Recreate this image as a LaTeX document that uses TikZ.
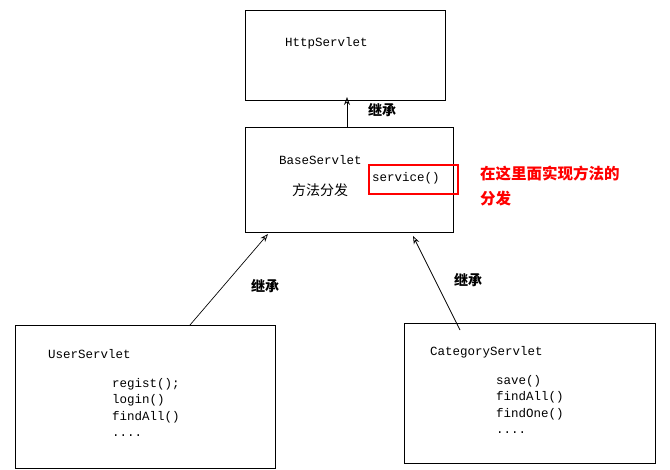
\documentclass[tikz,border=0pt]{standalone}
\usepackage{fontspec}
\usetikzlibrary{arrows.meta}
\setmainfont{Liberation Mono}
\newfontfamily\cjk{Noto Sans CJK SC}
\begin{document}
\begin{tikzpicture}[x=1pt,y=-1pt,
  box/.style={draw=black,line width=0.8pt},
  lbl/.style={font=\fontsize{12.5}{14}\selectfont,inner sep=0pt,anchor=west},
  jc/.style={font=\cjk\bfseries\fontsize{14}{15}\selectfont,inner sep=0pt},
  arr/.style={-{Stealth[open,length=8pt,width=6pt]},line width=0.7pt}]
\useasboundingbox[fill=white] (0,0) rectangle (670,470);
\draw[box] (245,10) rectangle (445,100);
\node[lbl] (http) at (285,43) {HttpServlet};
\coordinate (httpb) at (347,97);
\draw[box] (245,127) rectangle (453,232);
\coordinate (baset) at (347,127);
\node[lbl] (base) at (279,160) {BaseServlet};
\node[lbl,font=\cjk\fontsize{14}{15}\selectfont] (ff) at (292,190) {方法分发};
\draw[draw=red,line width=2pt] (369,165) rectangle (458,194);
\node[lbl] (svc) at (372,178) {service()};
\node[anchor=north west,inner sep=0pt,text=red,font=\cjk\bfseries\fontsize{15.5}{25}\selectfont,align=left] (note) at (480,166) {在这里面实现方法的\\分发};
\draw[arr] (baset) -- (httpb);
\node[jc] (j1) at (382,110) {继承};
\draw[box] (15,325) rectangle (275,468);
\node[lbl] (us) at (48,354) {UserServlet};
\node[lbl,align=left,anchor=north west,font=\fontsize{12.5}{16.5}\selectfont] (um) at (112,378) {regist();\\login()\\findAll()\\....};
\draw[box] (404,323) rectangle (655,463);
\node[lbl] (cs) at (430,352) {CategoryServlet};
\node[lbl,align=left,anchor=north west,font=\fontsize{12.5}{16.5}\selectfont] (cm) at (496,375) {save()\\findAll()\\findOne()\\....};
\coordinate (u1) at (190,325);
\coordinate (b1) at (268,234);
\coordinate (c1) at (460,330);
\coordinate (b2) at (413,236);
\draw[arr] (u1) -- (b1);
\draw[arr] (c1) -- (b2);
\node[jc] (j2) at (265,286) {继承};
\node[jc] (j3) at (468,280) {继承};
\end{tikzpicture}
\end{document}
